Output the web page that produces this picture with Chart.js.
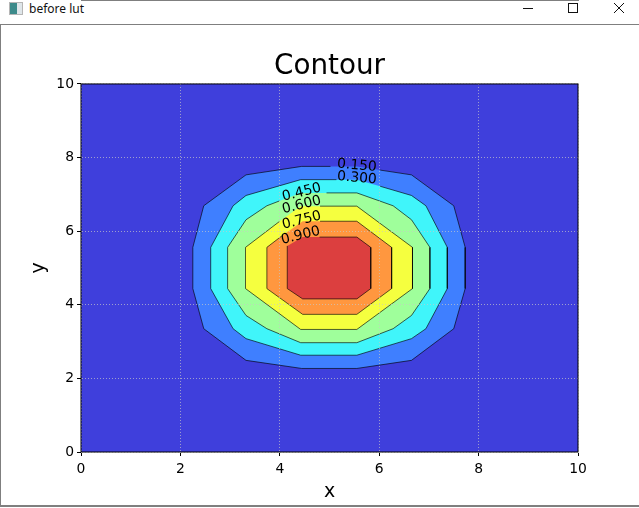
<!DOCTYPE html>
<html>
<head>
<meta charset="utf-8">
<title>before lut</title>
<script src="https://cdn.jsdelivr.net/npm/chart.js@4/dist/chart.umd.min.js"></script>
<style>
  html, body { margin: 0; padding: 0; background: #fff; overflow: hidden; }
  #win { position: relative; width: 639px; height: 508px; }
  #bar { position: absolute; left: 0; top: 0; width: 639px; height: 24px; border-bottom: 1px solid #7f7f7f; }
  #name { position: absolute; left: 29px; top: 0px; font: 12px "Noto Sans", sans-serif; color: #111; }
  #icon { position: absolute; left: 9px; top: 2px; width: 12px; height: 11px; border: 1px solid #b5b5b5;
          background: linear-gradient(90deg, #3c8a8a 0 55%, #dfe6ea 55%); }
  #win svg { position: absolute; left: 520px; top: 0; }
  #left { position: absolute; left: 0; top: 25px; width: 1px; height: 482px; background: #7f7f7f; }
  #bottom { position: absolute; left: 0; top: 505px; width: 639px; height: 2px; background: #7f7f7f; }
  #chart { position: absolute; left: 0; top: 0; }
</style>
</head>
<body>
<div id="win">
  <div id="bar">
    <div id="icon"></div>
    <div id="name">before lut</div>
    <svg width="119" height="20" fill="none" stroke="#111" stroke-width="1">
      <path d="M3 8.5H13"/>
      <rect x="48.5" y="3.5" width="9" height="9"/>
      <path d="M94 3L104 13M104 3L94 13"/>
    </svg>
  </div>
  <canvas id="chart" width="639" height="508"></canvas>
  <div id="left"></div>
  <div id="bottom"></div>
</div>
<script>
const levels = ["0.150", "0.300", "0.450", "0.600", "0.750", "0.900"];

// contour outlines, lowest level first
const contour150X = [6.02, 6.65, 7.5, 7.73, 7.73, 7.5, 6.65, 5.55, 4.44, 3.32, 2.47, 2.25, 2.25, 2.47, 3.32, 4.44, 5.02, 5.55];
const contour150Y = [7.66, 7.53, 6.69, 5.56, 4.44, 3.35, 2.49, 2.27, 2.27, 2.49, 3.35, 4.44, 5.56, 6.69, 7.53, 7.76, 7.76, 7.76];
const contour300X = [6.02, 6.65, 6.94, 7.37, 7.37, 6.94, 6.65, 5.55, 4.42, 3.32, 3.06, 2.61, 2.61, 3.06, 3.32, 4.42, 5.14, 5.55];
const contour300Y = [7.22, 6.97, 6.69, 5.56, 4.44, 3.35, 3.08, 2.63, 2.63, 3.08, 3.35, 4.44, 5.56, 6.69, 6.97, 7.4, 7.4, 7.4];
const contour450X = [4.94, 5.55, 6.28, 6.65, 7.02, 7.02, 6.65, 6.28, 5.55, 4.42, 3.74, 3.32, 2.95, 2.95, 3.32, 3.74, 3.99, 4.42];
const contour450Y = [7.04, 7.04, 6.69, 6.31, 5.56, 4.44, 3.71, 3.35, 2.97, 2.97, 3.35, 3.71, 4.44, 5.56, 6.31, 6.69, 6.82, 7.04];
const contour600X = [4.81, 5.55, 6.67, 6.67, 5.55, 4.42, 3.31, 3.31, 3.99, 4.42];
const contour600Y = [6.68, 6.68, 5.56, 4.44, 3.33, 3.33, 4.44, 5.56, 6.26, 6.68];
const contour750X = [4.81, 5.55, 6.25, 6.25, 5.55, 4.46, 3.74, 3.74, 4.04, 4.46];
const contour750Y = [6.27, 6.27, 5.56, 4.44, 3.74, 3.74, 4.44, 5.56, 5.87, 6.27];
const contour900X = [4.8, 5.55, 5.83, 5.83, 5.55, 4.46, 4.15, 4.15, 4.46];
const contour900Y = [5.84, 5.84, 5.56, 4.44, 4.16, 4.16, 4.44, 5.6, 5.84];

const contourX = [contour150X, contour300X, contour450X, contour600X, contour750X, contour900X];
const contourY = [contour150Y, contour300Y, contour450Y, contour600Y, contour750Y, contour900Y];
// the last point of each outline sits under its label, so the black line stops before it
const labelX = [5.55, 5.55, 4.44, 4.44, 4.44, 4.42];
const labelY = [7.78, 7.44, 7.05, 6.71, 6.29, 5.88];
const labelAngle = [5, 5, -14, -14, -14, -14];

const xTicks = [0, 2, 4, 6, 8, 10];
const yTicks = [0, 2, 4, 6, 8, 10];

const baseColor = "#3f3fdc";
const bandColors = ["#3f7fff", "#40f5fa", "#9fff9b", "#f5ff3f", "#ff973f", "#dc3f3f"];

const font = "DejaVu Sans";
const points = (xs, ys) => xs.map((x, i) => ({ x: x, y: ys[i] }));

// a higher order is drawn earlier, so the inner bands land on top
const fills = contourX.map((xs, i) => ({
  data: points(xs, contourY[i]),
  showLine: true,
  fill: "shape",
  order: 20 - i,
  backgroundColor: bandColors[i],
  borderWidth: 0,
  pointRadius: 0,
  tension: 0
}));

const lines = contourX.map((xs, i) => ({
  data: points(xs, contourY[i]).slice(0, -1),
  showLine: true,
  fill: false,
  order: 0,
  borderColor: "rgba(0,0,0,0.8)",
  borderWidth: 0.8,
  pointRadius: 0,
  tension: 0
}));

const plotBack = {
  id: "plotBack",
  beforeDatasetsDraw(chart) {
    const a = chart.chartArea;
    chart.ctx.fillStyle = baseColor;
    chart.ctx.fillRect(a.left, a.top, a.width, a.height);
  }
};

const frameAndLabels = {
  id: "frameAndLabels",
  afterDraw(chart) {
    const ctx = chart.ctx, a = chart.chartArea;
    ctx.save();
    ctx.font = "13.9px '" + font + "'";
    ctx.fillStyle = "#000";
    ctx.textAlign = "center";
    ctx.textBaseline = "middle";
    levels.forEach((text, i) => {
      ctx.save();
      ctx.translate(chart.scales.x.getPixelForValue(labelX[i]), chart.scales.y.getPixelForValue(labelY[i]));
      ctx.rotate(labelAngle[i] * Math.PI / 180);
      ctx.fillText(text, 0, 0);
      ctx.restore();
    });
    ctx.strokeStyle = "#000";
    ctx.lineWidth = 1;
    ctx.strokeRect(a.left, a.top, a.width, a.height);
    ctx.restore();
  }
};

const axis = (ticks, title, tickPad, titlePad, extra) => Object.assign({
  type: "linear",
  min: 0,
  max: 10,
  afterBuildTicks(scale) { scale.ticks = ticks.map(v => ({ value: v })); },
  grid: {
    z: 1,
    color: "rgba(200,200,200,0.7)",
    lineWidth: 1,
    tickColor: "#000",
    tickLength: 4,
    tickBorderDash: [],
    tickWidth: 1
  },
  border: { dash: [1, 2], color: "#000" },
  ticks: { color: "#000", font: { family: font, size: 13.9 }, padding: tickPad, maxRotation: 0 },
  title: { display: true, text: title, color: "#000", font: { family: font, size: 19 }, padding: titlePad }
}, extra);

new Chart(document.getElementById("chart"), {
  type: "scatter",
  data: { datasets: fills.concat(lines) },
  options: {
    responsive: false,
    animation: false,
    layout: { padding: { left: 0, top: 50, right: 61, bottom: 0 } },
    plugins: {
      legend: { display: false },
      tooltip: { enabled: false },
      title: {
        display: true,
        text: "Contour",
        color: "#000",
        fullSize: false,
        font: { family: font, size: 27.8, weight: "normal" },
        padding: { top: 0, bottom: 0.6 }
      }
    },
    scales: {
      x: axis(xTicks, "x", 5, { top: 4, bottom: 5 }, { afterFit(s) { s.height = 56; } }),
      y: axis(yTicks, "y", 3, { top: 28, bottom: 4 }, { afterFit(s) { s.width = 81; } })
    }
  },
  plugins: [plotBack, frameAndLabels]
});
</script>
</body>
</html>
